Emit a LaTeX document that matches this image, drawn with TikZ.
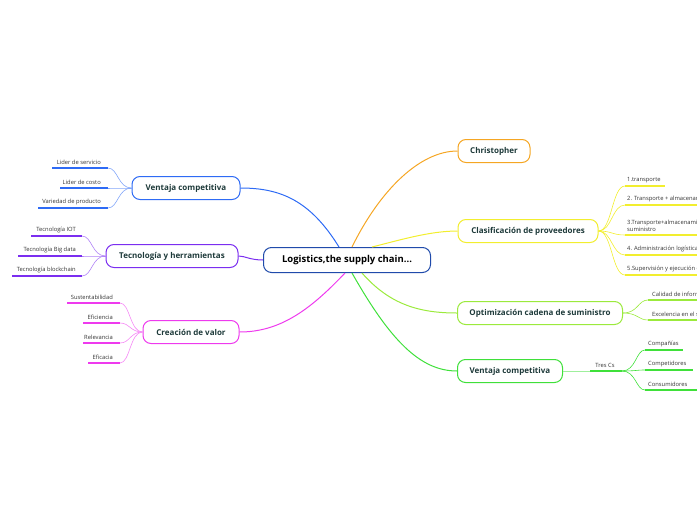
\documentclass[tikz,border=0pt]{standalone}
\usepackage{fontspec}
\setmainfont{Open Sans}
\definecolor{cor}{HTML}{F5A623}
\definecolor{cye}{HTML}{F2EE2E}
\definecolor{clg}{HTML}{9BEA3C}
\definecolor{cgr}{HTML}{3FE03A}
\definecolor{cbl}{HTML}{2E6BF5}
\definecolor{cpu}{HTML}{7B2EF0}
\definecolor{cma}{HTML}{EE3AEE}
\definecolor{ctx}{HTML}{1E3A3A}
\tikzset{
 branch/.style={draw=#1, line width=1pt, rounded corners=8pt, minimum height=23pt, inner xsep=8pt, font=\fontsize{8}{9}\selectfont\bfseries, text=ctx, fill=white},
 conn/.style={draw=#1, line width=1pt},
 leafline/.style={draw=#1, line width=1.5pt},
 leaftext/.style={font=\fontsize{5.8}{6.8}\selectfont, text=black!80, inner sep=1pt}
}
\begin{document}
\begin{tikzpicture}[x=1pt,y=-1pt]
\useasboundingbox (0,0) rectangle (697,520);
\clip (0,0) rectangle (697,520);
\node[branch=cbl!70!black, minimum width=167pt, minimum height=25pt, font=\fontsize{9.5}{11}\selectfont\bfseries, text=black] (c) at (347,260) {Logistics,the supply chain...};
\node[branch=cor, minimum width=72pt] (chr) at (494,151) {Christopher};
\node[branch=cye, minimum width=140pt] (cla) at (528,231) {Clasificación de proveedores};
\node[branch=clg, minimum width=165pt] (opt) at (540,313) {Optimización cadena de suministro};
\node[branch=cgr, minimum width=105pt] (vcr) at (510,371) {Ventaja competitiva};
\node[branch=cbl, minimum width=108pt] (vcl) at (186,188) {Ventaja competitiva};
\node[branch=cpu, minimum width=132pt] (tec) at (172,256) {Tecnología y herramientas};
\node[branch=cma, minimum width=96pt] (cre) at (191,332) {Creación de valor};
\draw[conn=cor] (c.north) ++(5,0) coordinate (c1) (c1) .. controls (380,190) and (420,151) .. (chr.west);
\draw[conn=cye] (c.north) ++(25,0) coordinate (c2) (c2) .. controls (400,240) and (430,231) .. (cla.west);
\draw[conn=clg] (c.south) ++(15,0) coordinate (c3) (c3) .. controls (390,305) and (420,313) .. (opt.west);
\draw[conn=cgr] (c.south) ++(5,0) coordinate (c4) (c4) .. controls (390,340) and (420,371) .. (vcr.west);
\draw[conn=cbl] (c.north) ++(-8,0) coordinate (c5) (c5) .. controls (310,200) and (280,188) .. (vcl.east);
\draw[conn=cpu] (c.west) .. controls (250,260) and (245,256) .. (tec.east);
\draw[conn=cma] (c.south) ++(-2,0) coordinate (c6) (c6) .. controls (310,310) and (280,332) .. (cre.east);
% yellow leaves
\foreach \y/\t/\x/\n in {186/{1.transporte}/665/y1, 205/{2. Transporte + almacenamiento}/720/y2, 255/{4. Administración logística}/720/y4, 275/{5.Supervisión y ejecución de la cadena}/720/y5}{
  \coordinate (\n a) at (625,\y); \coordinate (\n b) at (\x,\y);
  \draw[conn=cye, line width=0.6pt] (cla.east) .. controls (612,231) and (612,\y) .. (\n a);
  \draw[leafline=cye] (\n a) -- (\n b);
  \node[leaftext, anchor=south west] at (626,\y-2) {\t};
}
\coordinate (y3a) at (625,235); \coordinate (y3b) at (720,235);
\draw[conn=cye, line width=0.6pt] (cla.east) .. controls (612,231) and (612,235) .. (y3a);
\draw[leafline=cye] (y3a) -- (y3b);
\node[leaftext, anchor=south west, align=left] at (626,233) {3.Transporte+almacenamiento+cadena de\\suministro};
% light green leaves
\foreach \y/\t/\n in {300/{Calidad de información}/g1, 320/{Excelencia en el servicio}/g2}{
  \coordinate (\n a) at (648,\y); \coordinate (\n b) at (720,\y);
  \draw[conn=clg, line width=0.6pt] (opt.east) .. controls (638,313) and (638,\y) .. (\n a);
  \draw[leafline=clg] (\n a) -- (\n b);
  \node[leaftext, anchor=south west] at (651,\y-2) {\t};
}
% green leaves
\coordinate (tcA) at (590,371); \coordinate (tcB) at (622,371);
\draw[conn=cgr!50, line width=1pt] (vcr.east) -- (tcA);
\draw[leafline=cgr] (tcA) -- (tcB);
\node[leaftext, anchor=south] at (605,369) {Tres Cs};
\foreach \y/\t/\x/\n in {350/{Compañías}/683/h1, 370/{Competidores}/693/h2, 390/{Consumidores}/700/h3}{
  \coordinate (\n a) at (645,\y); \coordinate (\n b) at (\x,\y);
  \draw[conn=cgr, line width=0.6pt] (tcB) .. controls (636,371) and (636,\y) .. (\n a);
  \draw[leafline=cgr] (\n a) -- (\n b);
  \node[leaftext, anchor=south west] at (647,\y-2) {\t};
}
% blue leaves
\foreach \y/\t/\x/\n in {168/{Lider de servicio}/52/b1, 188/{Lider de costo}/60/b2, 208/{Variedad de producto}/38/b3}{
  \coordinate (\n a) at (108,\y); \coordinate (\n b) at (\x,\y);
  \draw[conn=cbl!60, line width=0.6pt] (vcl.west) .. controls (118,188) and (118,\y) .. (\n a);
  \draw[leafline=cbl] (\n a) -- (\n b);
  \node[leaftext, anchor=south east] at (102,\y-2) {\t};
}
% purple leaves
\foreach \y/\t/\x/\n in {236/{Tecnología IOT}/31/p1, 256/{Tecnología Big data}/18/p2, 276/{Tecnología blockchain}/12/p3}{
  \coordinate (\n a) at (82,\y); \coordinate (\n b) at (\x,\y);
  \draw[conn=cpu!60, line width=0.6pt] (tec.west) .. controls (92,256) and (92,\y) .. (\n a);
  \draw[leafline=cpu] (\n a) -- (\n b);
  \node[leaftext, anchor=south east] at (77,\y-2) {\t};
}
% magenta leaves
\foreach \y/\t/\x/\n in {303/{Sustentabilidad}/67/m1, 323/{Eficiencia}/83/m2, 343/{Relevancia}/83/m3, 363/{Eficacia}/88/m4}{
  \coordinate (\n a) at (120,\y); \coordinate (\n b) at (\x,\y);
  \draw[conn=cma!60, line width=0.6pt] (cre.west) .. controls (130,332) and (130,\y) .. (\n a);
  \draw[leafline=cma] (\n a) -- (\n b);
  \node[leaftext, anchor=south east] at (114,\y-2) {\t};
}
\end{tikzpicture}
\end{document}
